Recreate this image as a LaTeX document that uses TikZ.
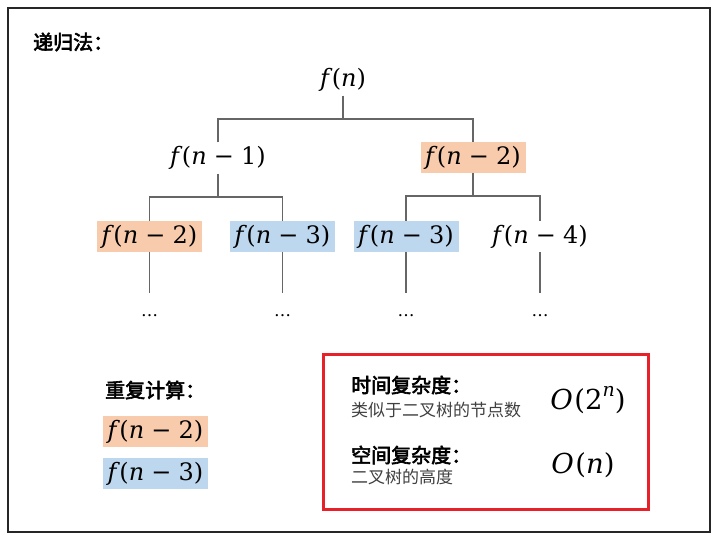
\RequirePackage{fix-cm}
\documentclass[tikz,border=0pt]{standalone}
\usepackage{fontspec}
\newfontfamily\cjk{Noto Sans CJK SC}
\newfontfamily\cjkb[FakeBold=3]{Noto Sans CJK SC}
\newfontfamily\mf{DejaVu Serif}
\newcommand\fof[1]{{\mf\itshape f\kern0.12em}{\mf(}{\mf\itshape n}#1{\mf)}}
\newcommand\mns{\hspace{0.3em}{\mf −}\hspace{0.3em}}
\definecolor{orangeb}{HTML}{F8CBAD}
\definecolor{blueb}{HTML}{BDD7EE}
\definecolor{edgec}{HTML}{666666}
\definecolor{redb}{HTML}{E8202A}
\definecolor{subc}{HTML}{404040}
\begin{document}
\begin{tikzpicture}[x=1pt,y=-1pt,
  fnode/.style={minimum width=105pt, minimum height=31pt, inner sep=0pt, font=\fontsize{24}{28}\mf},
  obox/.style={fnode, fill=orangeb},
  bbox/.style={fnode, fill=blueb},
  dotn/.style={minimum height=46pt, inner sep=0pt, font=\fontsize{17}{20}\mf},
  edge/.style={draw=edgec, line width=1.6pt},
  head/.style={inner sep=0pt, anchor=west, font=\fontsize{20}{24}\cjkb},
  sub/.style={inner sep=0pt, anchor=west, text=subc, font=\fontsize{17}{20}\cjk},
  bigm/.style={inner sep=0pt, font=\fontsize{27.5}{32}\mf},
]
\useasboundingbox (0,0) rectangle (717,542);
\node[draw=black!85, line width=2pt, minimum width=702pt, minimum height=524pt, inner sep=0pt] (frame) at (359,270) {};
\node[head] (title) at (33,42) {递归法：};

% tree
\node[fnode] (r) at (343,80) {\fof{}};
\node[fnode] (a) at (218,158) {\fof{\mns 1}};
\node[obox] (b) at (473,157.5) {\fof{\mns 2}};
\node[obox] (a1) at (149.5,236.5) {\fof{\mns 2}};
\node[bbox] (a2) at (282.5,236.5) {\fof{\mns 3}};
\node[bbox] (b1) at (406,236.5) {\fof{\mns 3}};
\node[fnode] (b2) at (540,236.5) {\fof{\mns 4}};
\node[dotn] (d1) at (149.5,316) {…};
\node[dotn] (d2) at (282.5,316) {…};
\node[dotn] (d3) at (406,316) {…};
\node[dotn] (d4) at (540,316) {…};

\draw[edge] (r.south) -- ++(0,23) coordinate (j1);
\draw[edge] (a.north) |- (j1) -| (b.north);
\draw[edge] (a.south) -- ++(0,23.5) coordinate (j2);
\draw[edge] (a1.north) |- (j2) -| (a2.north);
\draw[edge] (b.south) -- ++(0,23) coordinate (j3);
\draw[edge] (b1.north) |- (j3) -| (b2.north);
\draw[edge] (a1.south) -- (d1.north);
\draw[edge] (a2.south) -- (d2.north);
\draw[edge] (b1.south) -- (d3.north);
\draw[edge] (b2.south) -- (d4.north);

% repeated computations
\node[head] (rep) at (105,390) {重复计算：};
\node[obox] (ro) at (155.5,431.5) {\fof{\mns 2}};
\node[bbox] (rb) at (155.5,473.5) {\fof{\mns 3}};

% complexity box
\node[draw=redb, line width=3pt, minimum width=325pt, minimum height=155pt, inner sep=0pt] (cx) at (485.5,431.5) {};
\node[head] (t1) at (351,385) {时间复杂度：};
\node[sub] (t1s) at (351,410) {类似于二叉树的节点数};
\node[bigm] (o1) at (588,400) {{\itshape O\kern0.05em}(2\raisebox{0.45em}{\fontsize{19}{20}\selectfont\itshape n})};
\node[head] (t2) at (351,455) {空间复杂度：};
\node[sub] (t2s) at (351,477) {二叉树的高度};
\node[bigm] (o2) at (583,465) {{\itshape O\kern0.05em}({\itshape n})};
\end{tikzpicture}
\end{document}
